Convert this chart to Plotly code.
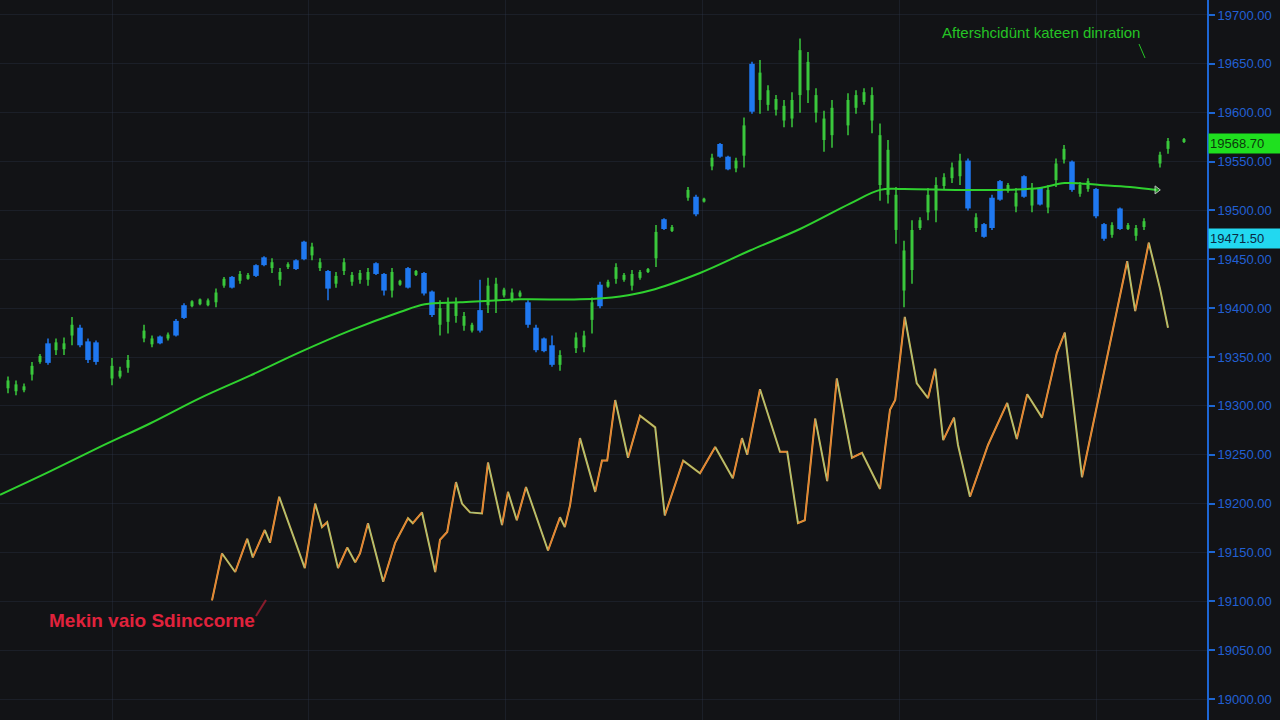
import plotly.graph_objects as go

# ---------------- candle data (slot index, OHLC) ----------------
candle_x = [1, 2, 3, 4, 5, 6, 7, 8, 9, 10,
            11, 12, 14, 15, 16, 18, 19, 20, 21, 22,
            23, 24, 25, 26, 27, 28, 29, 30, 31, 32,
            33, 34, 35, 36, 37, 38, 39, 40, 41, 42,
            43, 44, 45, 46, 47, 48, 49, 50, 51, 52,
            53, 54, 55, 56, 57, 58, 59, 60, 61, 62,
            63, 64, 65, 66, 67, 68, 69, 70, 72, 73,
            74, 75, 76, 77, 78, 79, 80, 81, 82, 83,
            84, 86, 87, 88, 89, 90, 91, 92, 93, 94,
            95, 96, 97, 98, 99, 100, 101, 102, 103, 104,
            106, 107, 108, 109, 110, 111, 112, 113, 114, 115,
            116, 117, 118, 119, 120, 121, 122, 123, 124, 125,
            126, 127, 128, 129, 130, 131, 132, 133, 134, 135,
            136, 137, 138, 139, 140, 141, 142, 143, 145, 146, 148]

opens = [19318, 19315, 19316, 19332, 19345, 19364, 19357, 19358, 19372, 19380,
         19366, 19365, 19328, 19330, 19339, 19369, 19363, 19371, 19369, 19387,
         19403, 19402, 19404, 19403, 19406, 19423, 19432, 19428, 19430, 19444,
         19452, 19441, 19429, 19442, 19449, 19468, 19454, 19441, 19438, 19425,
         19438, 19427, 19429, 19429, 19446, 19435, 19418, 19424, 19441, 19434,
         19436, 19417, 19383, 19386, 19392, 19382, 19377, 19398, 19403, 19408,
         19413, 19409, 19412, 19406, 19380, 19369, 19362, 19342, 19359, 19360,
         19388, 19424, 19422, 19430, 19429, 19423, 19431, 19437, 19451, 19491,
         19479, 19513, 19514, 19509, 19545, 19568, 19555, 19543, 19556, 19650,
         19613, 19608, 19603, 19592, 19594, 19618, 19623, 19600, 19572, 19577,
         19587, 19605, 19611, 19592, 19526, 19516, 19480, 19418, 19439, 19482,
         19498, 19500, 19525, 19533, 19535, 19551, 19482, 19486, 19513, 19530,
         19520, 19504, 19535, 19505, 19523, 19503, 19531, 19552, 19550, 19517,
         19522, 19522, 19486, 19475, 19502, 19481, 19474, 19483, 19548, 19563, 19570]

highs = [19330, 19326, 19323, 19345, 19353, 19369, 19369, 19370, 19391, 19383,
         19369, 19367, 19349, 19340, 19352, 19383, 19372, 19372, 19375, 19389,
         19405, 19408, 19410, 19410, 19420, 19432, 19433, 19438, 19436, 19445,
         19453, 19451, 19441, 19447, 19450, 19469, 19467, 19451, 19439, 19437,
         19451, 19437, 19439, 19441, 19447, 19436, 19441, 19429, 19442, 19439,
         19437, 19418, 19408, 19411, 19411, 19396, 19385, 19429, 19431, 19431,
         19421, 19420, 19418, 19408, 19383, 19370, 19372, 19357, 19375, 19377,
         19411, 19427, 19429, 19446, 19436, 19439, 19439, 19441, 19485, 19492,
         19485, 19524, 19516, 19513, 19558, 19569, 19556, 19554, 19595, 19652,
         19654, 19628, 19618, 19613, 19621, 19676, 19662, 19625, 19602, 19613,
         19620, 19623, 19625, 19626, 19589, 19572, 19524, 19469, 19490, 19493,
         19523, 19534, 19538, 19549, 19558, 19553, 19497, 19487, 19516, 19531,
         19528, 19523, 19536, 19528, 19524, 19526, 19553, 19567, 19551, 19529,
         19533, 19523, 19487, 19488, 19503, 19487, 19485, 19492, 19560, 19574, 19574]

lows = [19313, 19311, 19314, 19326, 19343, 19342, 19352, 19352, 19362, 19360,
        19344, 19342, 19321, 19328, 19334, 19365, 19360, 19363, 19367, 19371,
        19389, 19401, 19403, 19402, 19401, 19421, 19420, 19425, 19429, 19432,
        19443, 19436, 19423, 19440, 19439, 19449, 19449, 19438, 19408, 19421,
        19434, 19423, 19425, 19423, 19434, 19413, 19411, 19423, 19420, 19433,
        19413, 19391, 19372, 19374, 19385, 19377, 19375, 19375, 19395, 19395,
        19411, 19406, 19411, 19380, 19355, 19355, 19340, 19336, 19354, 19355,
        19374, 19400, 19421, 19425, 19427, 19418, 19429, 19436, 19442, 19480,
        19478, 19510, 19494, 19508, 19541, 19554, 19541, 19539, 19544, 19599,
        19599, 19602, 19597, 19585, 19585, 19600, 19610, 19590, 19560, 19564,
        19577, 19599, 19608, 19579, 19510, 19507, 19466, 19401, 19425, 19480,
        19490, 19488, 19521, 19528, 19526, 19500, 19478, 19472, 19480, 19510,
        19518, 19498, 19513, 19498, 19505, 19497, 19524, 19548, 19519, 19514,
        19519, 19492, 19469, 19472, 19480, 19480, 19469, 19480, 19544, 19558, 19569]

closes = [19326, 19322, 19320, 19341, 19351, 19344, 19365, 19364, 19383, 19362,
          19347, 19345, 19341, 19336, 19347, 19377, 19369, 19364, 19373, 19372,
          19390, 19407, 19409, 19408, 19416, 19430, 19421, 19435, 19434, 19433,
          19444, 19447, 19437, 19445, 19440, 19450, 19463, 19447, 19420, 19433,
          19447, 19434, 19436, 19437, 19435, 19418, 19437, 19428, 19421, 19438,
          19415, 19393, 19400, 19405, 19406, 19392, 19383, 19377, 19423, 19425,
          19419, 19416, 19416, 19383, 19357, 19356, 19342, 19352, 19370, 19372,
          19406, 19402, 19427, 19442, 19434, 19435, 19437, 19440, 19478, 19481,
          19483, 19521, 19496, 19512, 19554, 19555, 19542, 19551, 19587, 19601,
          19641, 19623, 19614, 19607, 19613, 19664, 19652, 19618, 19594, 19605,
          19613, 19618, 19621, 19618, 19577, 19562, 19516, 19459, 19480, 19490,
          19516, 19526, 19534, 19544, 19551, 19502, 19493, 19473, 19482, 19511,
          19526, 19518, 19514, 19523, 19506, 19521, 19548, 19563, 19521, 19526,
          19530, 19494, 19471, 19485, 19481, 19485, 19482, 19489, 19557, 19571, 19573]

# ---------------- moving average ----------------
ma_x = [0, 6.25, 12.5, 18.75, 25, 31.25, 37.5, 43.75, 50, 53.1, 57.5, 65, 72.5, 77.5,
        81.25, 87.5, 93.75, 100, 106.25, 110, 112.5, 120, 125, 130, 133.1, 137.5, 141.25, 144.6]
ma_y = [19209, 19233, 19258, 19282, 19308, 19331, 19355, 19377, 19396, 19404, 19406, 19409, 19409, 19412,
        19418, 19436, 19459, 19481, 19507, 19521, 19522, 19521, 19521, 19523, 19528, 19526, 19524, 19521]

# ---------------- oscillator line ----------------
osc_x = [26.5, 27.75, 29.4, 30.9, 31.6, 33.1, 33.75, 34.9, 38.1, 39.4, 40.25, 40.9, 42.25, 43.4, 44.4,
         45, 46, 47.9, 49.4, 51, 51.6, 52.75, 54.4, 55, 55.9, 57, 57.75, 58.75, 60.25, 61, 62.75, 63.5,
         64.6, 65.75, 68.5, 70, 70.6, 71.25, 72.5, 74.4, 75.25, 75.9, 76.9, 78.5, 80, 81.9, 83.1, 85.4,
         87.5, 89.4, 91.6, 92.75, 93.4, 95, 97.5, 98.4, 99.75, 100.6, 101.9, 103.4, 104.6, 106.5, 107.75,
         110, 111.25, 111.9, 113.1, 114.6, 116, 116.9, 117.9, 119.25, 119.75, 121.25, 123.5, 125.9, 127.1,
         128.4, 130.25, 132.1, 133.1, 135.25, 140.9, 141.9, 143.6, 145, 146]
osc_y = [19101, 19149, 19130, 19164, 19145, 19173, 19160, 19207, 19134, 19200, 19176, 19181, 19134, 19155, 19140,
         19149, 19180, 19120, 19160, 19185, 19180, 19191, 19130, 19163, 19171, 19222, 19200, 19191, 19190, 19242,
         19178, 19212, 19183, 19217, 19152, 19186, 19176, 19198, 19267, 19212, 19244, 19244, 19306, 19247, 19290,
         19278, 19188, 19244, 19231, 19258, 19226, 19267, 19250, 19317, 19253, 19253, 19180, 19183, 19287, 19223,
         19328, 19247, 19252, 19215, 19296, 19306, 19391, 19323, 19308, 19338, 19265, 19288, 19260, 19207, 19260,
         19303, 19266, 19312, 19288, 19354, 19375, 19227, 19448, 19397, 19467, 19420, 19380]

tick_vals = [19000, 19050, 19100, 19150, 19200, 19250, 19300, 19350, 19400, 19450,
             19500, 19550, 19600, 19650, 19700]

last_price = 19568.7
marker_price = 19471.5

top_note = "Aftershcidünt kateen dinration"
bottom_note = "Mekin vaio Sdinccorne"

BG = "#121316"
UP = "#3ac83c"
DOWN = "#1f78f0"

fig = go.Figure()

# candles drawn as wick + body segments
wick = {"up": ([], []), "down": ([], [])}
body = {"up": ([], []), "down": ([], [])}
for x, o, h, l, c in zip(candle_x, opens, highs, lows, closes):
    k = "up" if c >= o else "down"
    wick[k][0].extend([x, x, None]); wick[k][1].extend([l, h, None])
    body[k][0].extend([x, x, None]); body[k][1].extend([o, c, None])

for k, col, bw in (("up", UP, 3), ("down", DOWN, 5.5)):
    fig.add_trace(go.Scatter(x=wick[k][0], y=wick[k][1], mode="lines",
                             line=dict(color=col, width=1.5), showlegend=False, hoverinfo="skip"))
    fig.add_trace(go.Scatter(x=body[k][0], y=body[k][1], mode="lines",
                             line=dict(color=col, width=bw), showlegend=False, hoverinfo="skip"))

# oscillator: base line plus rising/falling tints
rx, ry, fx, fy = [], [], [], []
for i in range(len(osc_x) - 1):
    seg_x = [osc_x[i], osc_x[i + 1], None]
    seg_y = [osc_y[i], osc_y[i + 1], None]
    if osc_y[i + 1] >= osc_y[i]:
        rx += seg_x; ry += seg_y
    else:
        fx += seg_x; fy += seg_y

fig.add_trace(go.Scatter(x=osc_x, y=osc_y, mode="lines",
                         line=dict(color="#ddb33e", width=2), showlegend=False, hoverinfo="skip"))
fig.add_trace(go.Scatter(x=rx, y=ry, mode="lines",
                         line=dict(color="#ea7636", width=1.3), opacity=0.9,
                         showlegend=False, hoverinfo="skip"))
fig.add_trace(go.Scatter(x=fx, y=fy, mode="lines",
                         line=dict(color="#6fcfc4", width=0.8), opacity=0.75,
                         showlegend=False, hoverinfo="skip"))

ma_sizes = [0] * (len(ma_x) - 1) + [7]
fig.add_trace(go.Scatter(x=ma_x, y=ma_y, mode="lines+markers",
                         line=dict(color="#2fd12f", width=2, shape="spline"),
                         marker=dict(size=ma_sizes, color="#2fd12f", symbol="triangle-right"),
                         showlegend=False, hoverinfo="skip"))

fig.update_layout(
    width=1280, height=720,
    margin=dict(l=0, r=73, t=0, b=0),
    paper_bgcolor=BG, plot_bgcolor=BG,
    showlegend=False,
    xaxis=dict(range=[0, 150.875], showticklabels=False, zeroline=False,
               showgrid=True, gridcolor="rgba(45,55,75,0.35)", gridwidth=1,
               tick0=14, dtick=24.6, fixedrange=True),
    yaxis=dict(range=[18978.6, 19715.3], side="right", tickvals=tick_vals, tickformat=".2f",
               showline=True, linecolor="#1d66d4", linewidth=2,
               ticks="outside", ticklen=6, tickcolor="#1d66d4", tickwidth=1.5,
               tickfont=dict(family="Liberation Sans", size=13, color="#2260d4"),
               showgrid=True, gridcolor="rgba(45,55,75,0.35)", gridwidth=1,
               zeroline=False, fixedrange=True),
    annotations=[
        dict(xref="paper", yref="y", x=1, y=last_price, xanchor="left", xshift=1,
             text=f"{last_price:.2f}", showarrow=False, bgcolor="#1fe01f",
             font=dict(family="Liberation Sans", size=13, color="#0c3a0c"),
             width=72, height=17, align="left"),
        dict(xref="paper", yref="y", x=1, y=marker_price, xanchor="left", xshift=1,
             text=f"{marker_price:.2f}", showarrow=False, bgcolor="#22d8f0",
             font=dict(family="Liberation Sans", size=13, color="#0a2a44"),
             width=72, height=17, align="left"),
        dict(xref="paper", yref="paper", x=940 / 1207, y=1 - 33 / 720, xanchor="left", yanchor="middle",
             text=top_note, showarrow=False,
             font=dict(family="Liberation Sans", size=15, color="#25c425")),
        dict(xref="paper", yref="paper", x=47 / 1207, y=1 - 620 / 720, xanchor="left", yanchor="middle",
             text=f"<b>{bottom_note}</b>", showarrow=False,
             font=dict(family="Liberation Sans", size=19, color="#e0223c")),
    ],
    shapes=[
        dict(type="line", xref="paper", yref="paper",
             x0=1139 / 1207, y0=1 - 44 / 720, x1=1145 / 1207, y1=1 - 58 / 720,
             line=dict(color="#25c425", width=1)),
        dict(type="line", xref="paper", yref="paper",
             x0=256 / 1207, y0=1 - 616 / 720, x1=266 / 1207, y1=1 - 600 / 720,
             line=dict(color="#8a1c2c", width=2)),
    ],
)

fig.write_html(
    "out.html",
    config={"displayModeBar": False},
    post_script="document.body.style.margin='0';document.body.style.background='#121316';"
                "document.body.style.overflow='hidden';",
)
